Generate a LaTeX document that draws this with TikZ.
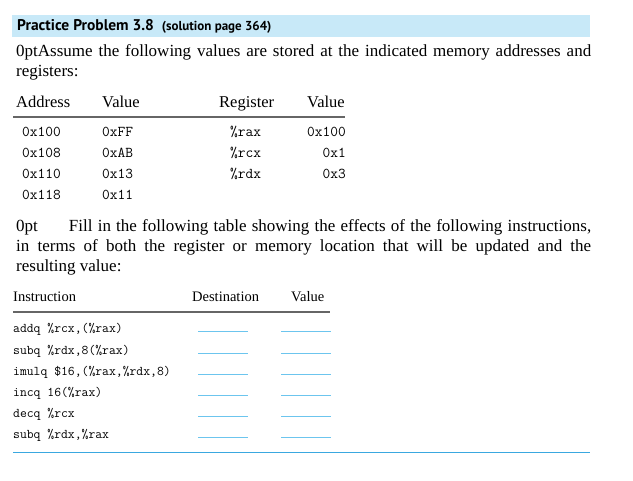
\documentclass[tikz,border=0pt]{standalone}
\usepackage{fontspec}
\setmainfont{Liberation Serif}
\newfontfamily\titlefont{PT Sans}
\setmonofont{Latin Modern Mono}
\definecolor{band}{HTML}{C8E9F8}
\definecolor{blank}{HTML}{6CC5EE}
\definecolor{botrule}{HTML}{3AA8E0}
\begin{document}
\begin{tikzpicture}[x=1pt,y=-1pt,
  th/.style={anchor=base west,inner sep=0,font=\fontsize{16.5}{18}\selectfont},
  thb/.style={anchor=base west,inner sep=0,font=\fontsize{14.5}{17}\selectfont},
  cell/.style={anchor=base west,inner sep=0,font=\fontsize{15}{17}\selectfont\ttfamily},
  cellb/.style={anchor=base west,inner sep=0,font=\fontsize{13.3}{16}\selectfont\ttfamily},
  para/.style={anchor=base west,inner sep=0,text width=575pt,align=justify,font=\fontsize{17}{20}\selectfont\hyphenpenalty=10000 },
  blankln/.style={draw=blank,line width=1pt}]
\useasboundingbox (0,0) rectangle (633,481);
\fill[band] (12,15) rectangle (590,37);
\node[anchor=base west,inner sep=0] (title) at (17,31) {\titlefont\bfseries\fontsize{15.5}{18}\selectfont Practice Problem 3.8\ \ {\fontsize{13}{14}\selectfont (solution page 364)}};
\node[para] (p1) at (16,57) {Assume the following values are stored at the indicated memory addresses and\linebreak registers:};
% table 1
\node[th] (h1) at (16,108) {Address};
\node[th] (h2) at (102,108) {Value};
\node[th] (h3) at (219,108) {Register};
\node[th] (h4) at (307,108) {Value};
\draw[gray!80!black,line width=1.4pt] (13,117) -- (345,117);
\foreach \a/\v/\r/\w [count=\i] in {0x100/0xFF/\%rax/0x100,0x108/0xAB/\%rcx/0x1,0x110/0x13/\%rdx/0x3,0x118/0x11//}{
  \pgfmathsetmacro\yy{137+21*(\i-1)}
  \node[cell] (a\i) at (22,\yy) {\a};
  \node[cell] (v\i) at (102,\yy) {\v};
  \node[cell] (r\i) at (230,\yy) {\r};
  \node[cell,anchor=base east] (w\i) at (346,\yy) {\w};
}
\node[para] (p2) at (16,232) {\hspace*{31pt}Fill in the following table showing the effects of the following instructions,\linebreak in terms of both the register or memory location that will be updated and the\linebreak resulting value:};
% table 2
\node[thb] (i1) at (13,302) {Instruction};
\node[thb] (i2) at (192,302) {Destination};
\node[thb] (i3) at (291,302) {Value};
\draw[gray!80!black,line width=1.4pt] (13,312) -- (330,312);
\foreach \t [count=\i] in {{addq \%rcx,(\%rax)},{subq \%rdx,8(\%rax)},{imulq \$16,(\%rax,\%rdx,8)},{incq 16(\%rax)},{decq \%rcx},{subq \%rdx,\%rax}}{
  \pgfmathsetmacro\yy{333+21.2*(\i-1)}
  \node[cellb] (ins\i) at (13,\yy) {\t};
  \draw[blankln] (198,\yy-1) -- (248,\yy-1);
  \draw[blankln] (281,\yy-1) -- (331,\yy-1);
}
\draw[botrule,line width=0.9pt] (13,452) -- (590,452);
\end{tikzpicture}
\end{document}
